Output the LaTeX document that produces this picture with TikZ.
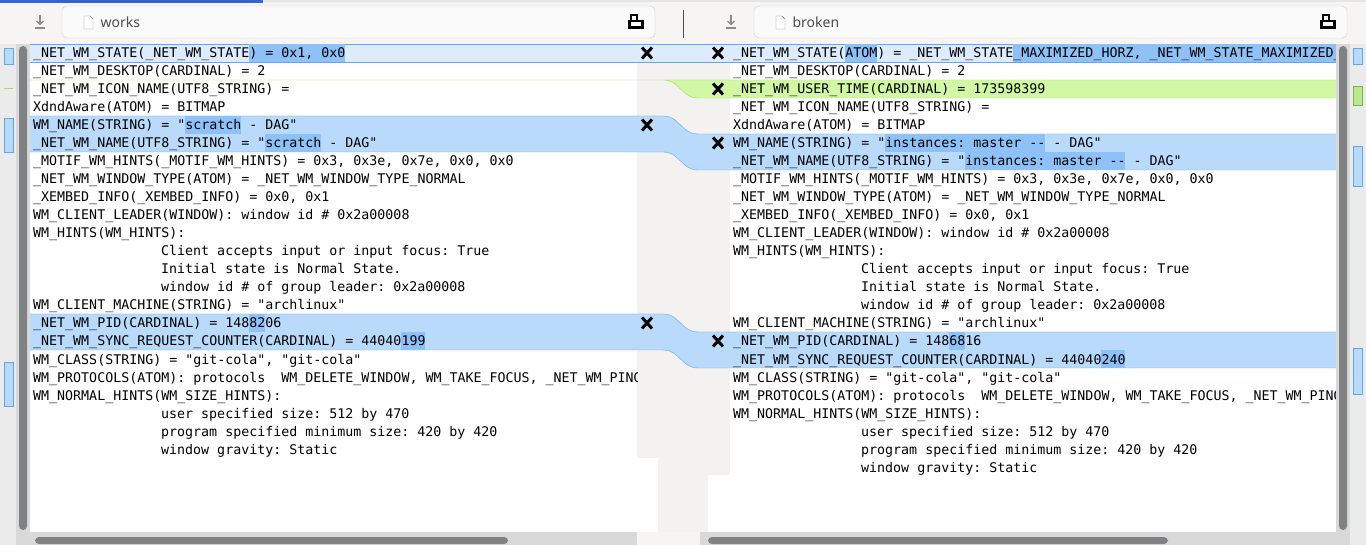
\documentclass[tikz,border=0pt]{standalone}
\usepackage{fontspec}
\newfontfamily\mono{DejaVu Sans Mono}
\newfontfamily\ui{Noto Sans}
\frenchspacing
\definecolor{bg}{HTML}{F6F5F4}
\definecolor{gut}{HTML}{F3F2F0}
\definecolor{chunk}{HTML}{BADAFB}
\definecolor{chunklt}{HTML}{DDECFC}
\definecolor{inl}{HTML}{8EC1F8}
\definecolor{bord}{HTML}{62A6F0}
\definecolor{grn}{HTML}{D2F8A6}
\definecolor{grnb}{HTML}{9CE05C}
\definecolor{sb}{HTML}{7E8282}
\tikzset{x=1pt,y=-1pt,
 code/.style={anchor=west,inner sep=0pt,font=\mono\fontsize{13.3}{16}\selectfont,text height=9.5pt,text depth=2.5pt},
 xmark/.style={line width=3pt},
 hbox/.style={draw=black!20,fill=black!2,rounded corners=5pt},
}
\newcommand{\mkx}[2]{\draw[xmark] (#1-5,#2-5.5)--(#1+5,#2+5.5) (#1-5,#2+5.5)--(#1+5,#2-5.5);}
\begin{document}
\begin{tikzpicture}
\fill[bg] (0,0) rectangle (1366,545);
\useasboundingbox (0,0) rectangle (1366,545);
% top
\fill[blue!70!cyan!80!black!80] (0,0) rectangle (263,3);
\fill[black!10] (263,0) rectangle (1366,2);
\draw[hbox] (62,6) rectangle (655,38);
\draw[hbox] (754,6) rectangle (1347,38);
\draw[black!70] (683,10)--(683,38);
\foreach \dx in {40,731}{
 \draw[black!45,line width=1.2pt] (\dx-5,28)--(\dx+5,28) (\dx,15)--(\dx,24);
 \draw[black!45,line width=1.2pt] (\dx-3.5,21)--(\dx,24.5)--(\dx+3.5,21);}
\foreach \fx/\t/\lx in {88/works/636,780/broken/1328}{
 \draw[black!45,fill=white] (\fx-4,16)--(\fx+2,16)--(\fx+5,19)--(\fx+5,29)--(\fx-4,29)--cycle;
 \node[anchor=west,font=\ui\fontsize{14}{16}\selectfont,text=black!70] (t\t) at (\fx+9,22) {\t};
 \fill[black] (\lx-8,20) rectangle (\lx+8,29);
 \fill[white] (\lx-5,22) rectangle (\lx+5,26.5);
 \draw[black,line width=2pt] (\lx-5,20)--(\lx-5,15)--(\lx+1,15)--(\lx+1,20);}
% panes
\fill[gut] (637,44) rectangle (730,532);
\fill[white] (30,44) rectangle (637,532);
\fill[white] (730,44) rectangle (1336,532);
\fill[white] (637,458) rectangle (658,532);
\fill[white] (708,475) rectangle (730,532);
% row0 band
\fill[chunklt] (30,44) rectangle (1336,62);
\draw[bord] (30,44)--(1336,44) (30,62)--(1336,62);
% green insert
\fill[grn] (663,80) .. controls (680,80) and (681,98) .. (698,98) -- (1336,98) -- (1336,80) -- cycle;
\draw[grnb] (30,80)--(1336,80) (663,80) .. controls (680,80) and (681,98) .. (698,98) -- (1336,98);
% chunks
\foreach \a in {116,314}{
 \fill[chunk] (30,\a) -- (663,\a) .. controls (680,\a) and (681,\a+18) .. (698,\a+18) -- (1336,\a+18) -- (1336,\a+54) -- (698,\a+54) .. controls (681,\a+54) and (680,\a+36) .. (663,\a+36) -- (30,\a+36) -- cycle;
 \draw[bord] (30,\a) -- (663,\a) .. controls (680,\a) and (681,\a+18) .. (698,\a+18) -- (1336,\a+18);
 \draw[bord] (30,\a+36) -- (663,\a+36) .. controls (680,\a+36) and (681,\a+54) .. (698,\a+54) -- (1336,\a+54);}
% inline highlights: col -> x = base + 8*col
\def\hl#1#2#3#4{\fill[inl] (#1+8*#2,#4-9) rectangle (#1+8*#3,#4+9);}
\hl{33}{27}{39}{53}
\hl{733}{14}{18}{53}
\fill[inl] (733+8*35,44) rectangle (1336,62);
\hl{33}{19}{26}{125}
\hl{33}{29}{36}{143}
\hl{733}{19}{39}{143}
\hl{733}{29}{49}{161}
\hl{33}{27}{29}{323}
\hl{33}{46}{49}{341}
\hl{733}{27}{29}{341}
\hl{733}{46}{49}{359}
% left text
\begin{scope}
\clip (30,44) rectangle (637,532);
\foreach [count=\i from 0] \t in {
{\_NET\_WM\_STATE(\_NET\_WM\_STATE) = 0x1, 0x0},
{\_NET\_WM\_DESKTOP(CARDINAL) = 2},
{\_NET\_WM\_ICON\_NAME(UTF8\_STRING) =},
{XdndAware(ATOM) = BITMAP},
{WM\_NAME(STRING) = "scratch - DAG"},
{\_NET\_WM\_NAME(UTF8\_STRING) = "scratch - DAG"},
{\_MOTIF\_WM\_HINTS(\_MOTIF\_WM\_HINTS) = 0x3, 0x3e, 0x7e, 0x0, 0x0},
{\_NET\_WM\_WINDOW\_TYPE(ATOM) = \_NET\_WM\_WINDOW\_TYPE\_NORMAL},
{\_XEMBED\_INFO(\_XEMBED\_INFO) = 0x0, 0x1},
{WM\_CLIENT\_LEADER(WINDOW): window id \# 0x2a00008},
{WM\_HINTS(WM\_HINTS):},
{\hspace*{128pt}Client accepts input or input focus: True},
{\hspace*{128pt}Initial state is Normal State.},
{\hspace*{128pt}window id \# of group leader: 0x2a00008},
{WM\_CLIENT\_MACHINE(STRING) = "archlinux"},
{\_NET\_WM\_PID(CARDINAL) = 1488206},
{\_NET\_WM\_SYNC\_REQUEST\_COUNTER(CARDINAL) = 44040199},
{WM\_CLASS(STRING) = "git-cola", "git-cola"},
{WM\_PROTOCOLS(ATOM): protocols\ \ WM\_DELETE\_WINDOW, WM\_TAKE\_FOCUS, \_NET\_WM\_PING},
{WM\_NORMAL\_HINTS(WM\_SIZE\_HINTS):},
{\hspace*{128pt}user specified size: 512 by 470},
{\hspace*{128pt}program specified minimum size: 420 by 420},
{\hspace*{128pt}window gravity: Static}}
{\node[code] (l\i) at (33,54.5+18*\i) {\t};}
\end{scope}
% right text
\begin{scope}
\clip (730,44) rectangle (1336,532);
\foreach [count=\i from 0] \t in {
{\_NET\_WM\_STATE(ATOM) = \_NET\_WM\_STATE\_MAXIMIZED\_HORZ, \_NET\_WM\_STATE\_MAXIMIZED\_VERT},
{\_NET\_WM\_DESKTOP(CARDINAL) = 2},
{\_NET\_WM\_USER\_TIME(CARDINAL) = 173598399},
{\_NET\_WM\_ICON\_NAME(UTF8\_STRING) =},
{XdndAware(ATOM) = BITMAP},
{WM\_NAME(STRING) = "instances: master -{}- - DAG"},
{\_NET\_WM\_NAME(UTF8\_STRING) = "instances: master -{}- - DAG"},
{\_MOTIF\_WM\_HINTS(\_MOTIF\_WM\_HINTS) = 0x3, 0x3e, 0x7e, 0x0, 0x0},
{\_NET\_WM\_WINDOW\_TYPE(ATOM) = \_NET\_WM\_WINDOW\_TYPE\_NORMAL},
{\_XEMBED\_INFO(\_XEMBED\_INFO) = 0x0, 0x1},
{WM\_CLIENT\_LEADER(WINDOW): window id \# 0x2a00008},
{WM\_HINTS(WM\_HINTS):},
{\hspace*{128pt}Client accepts input or input focus: True},
{\hspace*{128pt}Initial state is Normal State.},
{\hspace*{128pt}window id \# of group leader: 0x2a00008},
{WM\_CLIENT\_MACHINE(STRING) = "archlinux"},
{\_NET\_WM\_PID(CARDINAL) = 1486816},
{\_NET\_WM\_SYNC\_REQUEST\_COUNTER(CARDINAL) = 44040240},
{WM\_CLASS(STRING) = "git-cola", "git-cola"},
{WM\_PROTOCOLS(ATOM): protocols\ \ WM\_DELETE\_WINDOW, WM\_TAKE\_FOCUS, \_NET\_WM\_PING},
{WM\_NORMAL\_HINTS(WM\_SIZE\_HINTS):},
{\hspace*{128pt}user specified size: 512 by 470},
{\hspace*{128pt}program specified minimum size: 420 by 420},
{\hspace*{128pt}window gravity: Static}}
{\node[code] (r\i) at (733,54.5+18*\i) {\t};}
\end{scope}
% X marks
\mkx{647}{53}\mkx{647}{125}\mkx{647}{323}
\mkx{718}{53}\mkx{718}{89}\mkx{718}{143}\mkx{718}{341}
% scrollbars
\fill[black!15] (16,44) rectangle (30,545);
\fill[sb,rounded corners=4pt] (19,46) rectangle (27,530);
\fill[black!15] (1336,44) rectangle (1350,545);
\fill[sb,rounded corners=4pt] (1339,46) rectangle (1347,530);
\fill[black!15] (30,532) rectangle (637,545);
\fill[black!15] (700,532) rectangle (1336,545);
\fill[sb,rounded corners=4pt] (35,537) rectangle (508,544);
\fill[sb,rounded corners=4pt] (708,537) rectangle (1168,544);
% maps
\fill[black!8] (0,44) rectangle (16,545);
\fill[black!8] (1350,44) rectangle (1366,545);
\foreach \a/\b in {48/64,118/152,362/406}{\draw[bord,fill=chunk] (4,\a) rectangle (13,\b);}
\draw[grnb] (4,88)--(13,88);
\foreach \a/\b in {48/64,146/186,348/394}{\draw[bord,fill=chunk] (1353,\a) rectangle (1362,\b);}
\draw[grnb!80!black,fill=grnb!70] (1353,86) rectangle (1362,105);
\end{tikzpicture}
\end{document}
